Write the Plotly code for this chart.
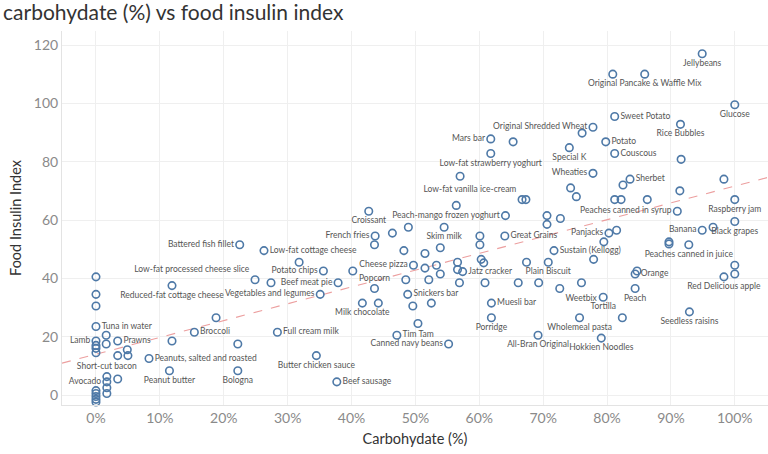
import numpy as np
import plotly.graph_objects as go

# ---------------- data ----------------
foods = [
    "", "", "", "Tuna in water", "Lamb", "", "", "", "", "", "", "", "",
    "", "", "Short-cut bacon", "Avocado", "", "",
    "Prawns", "", "",
    "", "",
    "Peanuts, salted and roasted", "Peanut butter", "Reduced-fat cottage cheese", "",
    "Broccoli", "", "Bologna", "", "Battered fish fillet",
    "Low-fat processed cheese slice", "Low-fat cottage cheese", "", "Full cream milk", "",
    "Butter chicken sauce", "Vegetables and legumes", "Potato chips", "Beef sausage",
    "Beef meat pie", "", "Milk chocolate", "Croissant", "Popcorn", "", "French fries",
    "", "", "Tim Tam", "", "", "Snickers bar", "", "", "Cheese pizza", "", "", "", "",
    "", "", "", "", "Skim milk", "Canned navy beans", "", "", "", "", "", "Jatz cracker",
    "", "", "", "", "", "Mars bar", "Low-fat strawberry yoghurt", "Muesli bar", "Porridge",
    "Great Grains", "Peach-mango frozen yoghurt", "", "", "Low-fat vanilla ice-cream", "",
    "", "All-Bran Original", "", "", "", "Plain Biscuit", "Sustain (Kellogg)", "Weetbix",
    "", "", "", "Special K", "Wholemeal pasta", "", "", "Original Shredded Wheat",
    "Wheaties", "", "Hokkien Noodles", "Tortilla", "", "Potato", "Panjacks", "",
    "Sweet Potato", "Couscous", "", "", "", "", "", "Sherbet", "Peach", "Orange", "",
    "Original Pancake & Waffle Mix", "", "", "", "Peaches canned in syrup", "",
    "Rice Bubbles", "", "Peaches canned in juice", "Seedless raisins", "Jellybeans",
    "Banana", "", "", "Red Delicious apple", "Glucose", "Raspberry jam", "Black grapes",
    "", "",
]
carbohydrate_pct = [
    0, 0, 0, 0, 0, 0, 0, 0, 0, 0, 0, 0, 0,
    1.6, 1.6, 1.7, 1.7, 1.7, 1.7,
    3.4, 3.4, 3.4,
    4.9, 5.0,
    8.3, 11.5, 11.9, 11.9,
    15.4, 18.8, 22.2, 22.2, 22.5,
    24.9, 26.3, 27.4, 28.4, 31.8,
    34.5, 35.1, 35.6, 37.7,
    37.9, 40.2, 41.7, 42.7, 43.6, 43.6, 43.7,
    44.2, 46.4, 47.1, 48.2, 48.5, 48.8, 48.9, 49.6, 49.7, 50.4, 51.5, 51.5, 52.1,
    52.5, 53.3, 53.9, 53.9, 54.5, 55.2, 56.4, 56.6, 56.6, 56.9, 57.0, 57.4,
    60.1, 60.1, 60.3, 60.7, 60.9, 61.8, 61.8, 61.9, 61.9,
    64.0, 64.1, 65.3, 66.1, 66.7, 67.3,
    67.4, 69.2, 69.3, 70.6, 70.6, 70.8, 71.7, 72.6,
    72.7, 74.3, 75.2, 74.1, 75.7, 76.0, 76.1, 77.8,
    77.8, 77.9, 79.1, 79.4, 79.5, 79.8, 80.3, 80.9,
    81.2, 81.2, 81.2, 82.2, 81.5, 82.4, 82.5, 83.6, 84.4, 84.4, 84.7,
    85.9, 86.3, 89.7, 89.7, 91.0, 91.4,
    91.5, 91.6, 92.8, 92.9, 94.9,
    94.9, 96.6, 98.3, 98.3, 100, 100, 100,
    100, 100,
]
food_insulin_index = [
    40.5, 34.5, 30.5, 23.5, 18.5, 17, 16, 14.5, 1.5, 0.5, -0.5, -1.5, -2.4,
    20.5, 17.5, 6.3, 4.5, 2.5, 0.5,
    18.5, 13.5, 5.5,
    15.5, 13.5,
    12.5, 8.3, 37.5, 18.5,
    21.5, 26.5, 8.3, 17.5, 51.5,
    39.5, 49.5, 38.5, 21.5, 45.5,
    13.5, 34.5, 42.5, 4.5,
    38.5, 42.5, 31.5, 63, 36.5, 51.5, 54.5,
    31.5, 55.5, 20.5, 49.5, 39.5, 34.5, 57.5, 30.5, 44.5, 24.5, 48.5, 43.5, 39.5,
    31.5, 44.5, 50.5, 41.5, 57.5, 17.5, 65, 45.5, 43, 38.5, 75, 42.3,
    54.5, 51.5, 46.5, 45.3, 38.5, 87.8, 82.8, 31.5, 26.5,
    54.5, 61.5, 86.8, 38.5, 67, 67,
    45.5, 20.5, 38.5, 61.5, 58.5, 45.5, 49.5, 36.5,
    60.5, 71, 68, 84.8, 26.5, 38.5, 89.8, 91.8,
    76, 46.5, 19.5, 33.5, 52.5, 86.8, 55.5, 110,
    95.5, 82.8, 67, 67, 56.5, 26.5, 72, 74, 36.5, 41.5, 42.5,
    110, 67, 52.5, 51.8, 63, 70,
    92.8, 80.8, 51.5, 28.5, 117,
    56.5, 57.5, 74, 40.5, 99.5, 67, 59.5,
    44.5, 41.5,
]
x_tick_values = [0, 10, 20, 30, 40, 50, 60, 70, 80, 90, 100]
x_tick_labels = ["0%", "10%", "20%", "30%", "40%", "50%", "60%", "70%", "80%", "90%", "100%"]
y_tick_values = [0, 20, 40, 60, 80, 100, 120]

# ---------------- styles ----------------
label_position = {
    "Tuna in water": "middle right", "Lamb": "middle left", "Short-cut bacon": "top center",
    "Avocado": "middle left", "Prawns": "middle right",
    "Peanuts, salted and roasted": "middle right", "Peanut butter": "bottom center",
    "Reduced-fat cottage cheese": "bottom center", "Broccoli": "middle right",
    "Bologna": "bottom center", "Battered fish fillet": "middle left",
    "Low-fat processed cheese slice": "top left", "Low-fat cottage cheese": "middle right",
    "Full cream milk": "middle right", "Butter chicken sauce": "bottom center",
    "Vegetables and legumes": "middle left", "Potato chips": "middle left",
    "Beef sausage": "middle right", "Beef meat pie": "middle left",
    "Milk chocolate": "bottom center", "Croissant": "bottom center", "Popcorn": "top center",
    "French fries": "middle left", "Tim Tam": "middle right", "Snickers bar": "middle right",
    "Cheese pizza": "middle left", "Skim milk": "bottom center",
    "Canned navy beans": "middle left", "Jatz cracker": "middle right",
    "Mars bar": "middle left", "Low-fat strawberry yoghurt": "bottom center",
    "Muesli bar": "middle right", "Porridge": "bottom center", "Great Grains": "middle right",
    "Peach-mango frozen yoghurt": "middle left", "Low-fat vanilla ice-cream": "top left",
    "All-Bran Original": "bottom center", "Plain Biscuit": "bottom center",
    "Sustain (Kellogg)": "middle right", "Weetbix": "bottom right",
    "Special K": "bottom center", "Wholemeal pasta": "bottom center",
    "Original Shredded Wheat": "middle left", "Wheaties": "middle left",
    "Hokkien Noodles": "bottom center", "Tortilla": "bottom center", "Potato": "middle right",
    "Panjacks": "middle left", "Sweet Potato": "middle right", "Couscous": "middle right",
    "Sherbet": "middle right", "Peach": "bottom center", "Orange": "middle right",
    "Original Pancake & Waffle Mix": "bottom center", "Peaches canned in syrup": "middle left",
    "Rice Bubbles": "bottom center", "Peaches canned in juice": "bottom center",
    "Seedless raisins": "bottom center", "Jellybeans": "bottom center", "Banana": "middle left",
    "Red Delicious apple": "bottom center", "Glucose": "bottom center",
    "Raspberry jam": "bottom center", "Black grapes": "bottom center",
}
X_RANGE = [-5.32, 105.2]
Y_RANGE = [-3.43, 124.8]
FONT = "Lato"

# ---------------- figure ----------------
fig = go.Figure()

slope, intercept = np.polyfit(np.array(carbohydrate_pct, float), np.array(food_insulin_index, float), 1)
trend_x = np.array(X_RANGE)
fig.add_trace(go.Scatter(
    x=trend_x, y=slope * trend_x + intercept, mode="lines",
    line=dict(color="#ec9f9f", width=1.1, dash="dash"), hoverinfo="skip",
))

fig.add_trace(go.Scatter(
    x=carbohydrate_pct, y=food_insulin_index, mode="markers+text",
    text=foods,
    textposition=[label_position.get(f, "middle right") for f in foods],
    textfont=dict(family=FONT, size=8.5, color="#555555"),
    marker=dict(symbol="circle-open", size=7.5, color="#4e79a7",
                line=dict(width=1.6, color="#4e79a7")),
    cliponaxis=False,
))

axis_common = dict(
    showgrid=True, gridcolor="#efefef", gridwidth=1,
    zeroline=False, showline=True, linecolor="#e3e3e3", linewidth=1,
    ticks="", tickfont=dict(family=FONT, size=14, color="#8a8a8a"),
)
fig.update_xaxes(
    range=X_RANGE, tickvals=x_tick_values, ticktext=x_tick_labels,
    title=dict(text="Carbohydate (%)", font=dict(family=FONT, size=14.5, color="#333333"), standoff=9),
    **axis_common,
)
fig.update_yaxes(
    range=Y_RANGE, tickvals=y_tick_values,
    title=dict(text="Food Insulin Index", font=dict(family=FONT, size=14.5, color="#333333"), standoff=8),
    **axis_common,
)

fig.update_layout(
    width=768, height=454,
    margin=dict(l=62, r=0, t=31, b=49),
    paper_bgcolor="white", plot_bgcolor="white",
    showlegend=False,
    font=dict(family=FONT),
    title=dict(text="carbohydate (%) vs food insulin index", x=0.004, xref="container",
               xanchor="left", y=0.988, yref="container", yanchor="top",
               font=dict(family=FONT, size=21, color="#333333")),
)

fig.write_html("out.html")
